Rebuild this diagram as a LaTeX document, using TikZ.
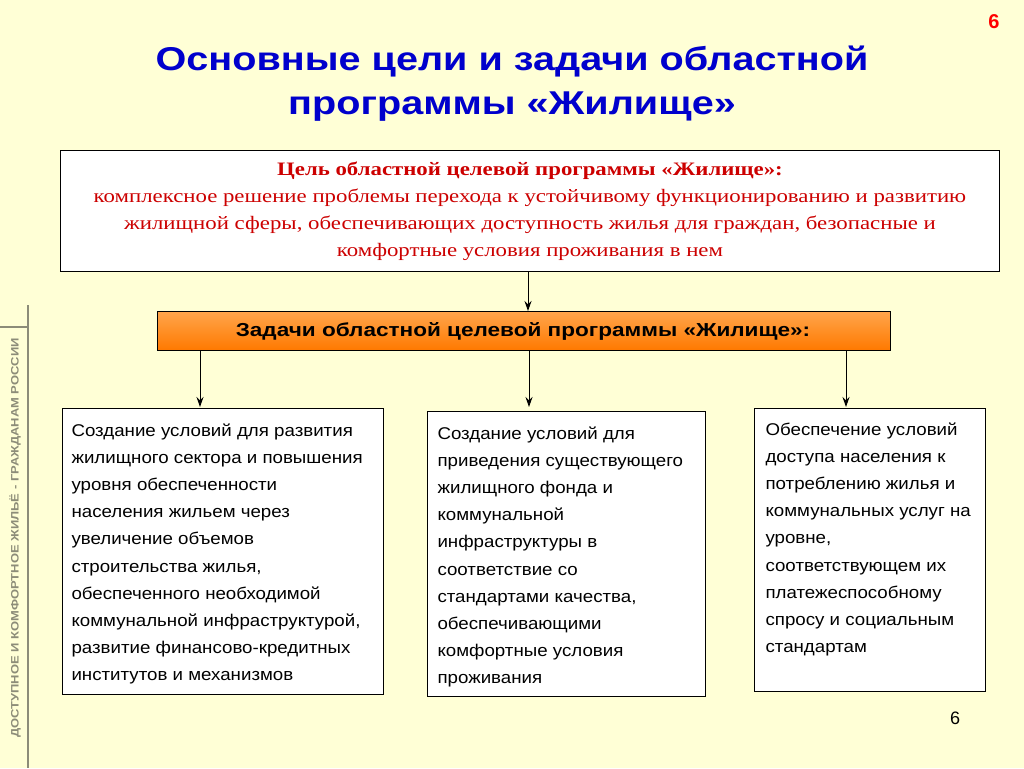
\documentclass[tikz,border=0pt]{standalone}
\usepackage{fontspec}
\setmainfont{Liberation Serif}
\setsansfont{Liberation Sans}
\newfontfamily\wideserif[FakeStretch=1.2]{Liberation Serif}
\newfontfamily\widesans[FakeStretch=1.2]{Liberation Sans}
\newfontfamily\tasksans[FakeStretch=1.1]{Liberation Sans}
\usetikzlibrary{arrows.meta}
\definecolor{slidebg}{RGB}{255,255,214}
\definecolor{titleblue}{RGB}{0,0,204}
\definecolor{goalred}{RGB}{204,0,0}
\definecolor{sidegray}{RGB}{140,140,120}

\begin{document}
\begin{tikzpicture}[x=1pt,y=-1pt,
    tasktext/.style={anchor=north west,align=left,font=\tasksans\fontsize{17}{27.2}\selectfont},
    arr/.style={-{Stealth[length=10pt,width=7pt]},line width=1pt}]
    % Background
    \fill[slidebg] (0,0) rectangle (1024,768);
    \useasboundingbox (0,0) rectangle (1024,768);

    % Side band
    \draw[sidegray,line width=2pt] (28,305) -- (28,768);
    \draw[sidegray,line width=2pt] (0,327) -- (28,327);
    \node[rotate=90,text=sidegray,font=\widesans\bfseries\fontsize{10.8}{13}\selectfont]
      (side) at (15,538) {ДОСТУПНОЕ И КОМФОРТНОЕ ЖИЛЬЁ - ГРАЖДАНАМ РОССИИ};

    % Page numbers
    \node[text=red,font=\sffamily\bfseries\fontsize{20}{24}\selectfont] (pgtop) at (994,22) {6};
    \node[font=\sffamily\fontsize{18}{22}\selectfont] (pgbot) at (955,718) {6};

    % Title
    \node[text=titleblue,align=center,font=\widesans\bfseries\fontsize{33}{44}\selectfont]
      (title) at (512,84) {Основные цели и задачи областной\\программы «Жилище»};

    % Goal box
    \draw[fill=white] (60,150) rectangle (999,271);
    \node[text=goalred,align=center,font=\wideserif\fontsize{19}{27}\selectfont] (goal) at (530,211)
      {\textbf{Цель областной целевой программы «Жилище»:}\\
       комплексное решение проблемы перехода к устойчивому функционированию и развитию\\
       жилищной сферы, обеспечивающих доступность жилья для граждан, безопасные и\\
       комфортные условия проживания в нем};
    \coordinate (goalS) at (528,271);

    % Tasks bar
    \shade[top color=orange!70,bottom color=orange!95!red,draw=black] (157,311) rectangle (890,350);
    \node[font=\widesans\bfseries\fontsize{18.8}{20}\selectfont] (tasks) at (523,331)
      {Задачи областной целевой программы «Жилище»:};
    \coordinate (tasksN) at (528,311);
    \draw[arr] (goalS) -- (tasksN);

    % Task boxes
    \draw[fill=white] (62,408) rectangle (383,694);
    \draw[fill=white] (427,411) rectangle (705,696);
    \draw[fill=white] (754,408) rectangle (985,691);
    \foreach \x/\n in {200/a,529/b,846/c} {
      \coordinate (top\n) at (\x,350);
      \coordinate (bot\n) at (\x,407);
      \draw[arr] (top\n) -- (bot\n);
    }
    \node[tasktext] (taska) at (68,420)
      {Создание условий для развития\\жилищного сектора и повышения\\уровня обеспеченности\\населения жильем через\\увеличение объемов\\строительства жилья,\\обеспеченного необходимой\\коммунальной инфраструктурой,\\развитие финансово-кредитных\\институтов и механизмов};
    \node[tasktext] (taskb) at (434,423)
      {Создание условий для\\приведения существующего\\жилищного фонда и\\коммунальной\\инфраструктуры в\\соответствие со\\стандартами качества,\\обеспечивающими\\комфортные условия\\проживания};
    \node[tasktext] (taskc) at (762,419)
      {Обеспечение условий\\доступа населения к\\потреблению жилья и\\коммунальных услуг на\\уровне,\\соответствующем их\\платежеспособному\\спросу и социальным\\стандартам};
\end{tikzpicture}
\end{document}
